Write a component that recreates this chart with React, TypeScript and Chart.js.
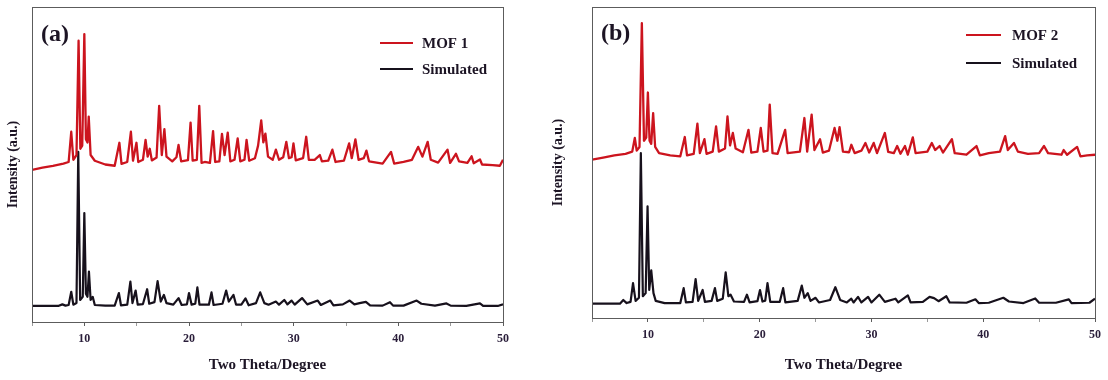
import React, { useEffect, useRef } from "react";
import { Chart, registerables } from "chart.js";

Chart.register(...registerables);

// ---------- Data (2θ in degrees, intensity in offset arbitrary units) ----------
const xTickValues = [10, 20, 30, 40, 50];

// Panel (a): MOF 1 experimental (offset upward)
const mof1Theta = [5.0, 6.0, 7.0, 8.0, 8.5, 8.75, 8.95, 9.25, 9.45, 9.62, 9.8, 10.0, 10.15, 10.3, 10.42, 10.6, 11.0, 12.0, 12.9, 13.35, 13.55, 14.1, 14.45, 14.65, 14.98, 15.15, 15.6, 15.85, 16.05, 16.25, 16.45, 16.9, 17.15, 17.4, 17.65, 17.85, 18.4, 18.8, 19.0, 19.25, 19.9, 20.15, 20.35, 20.75, 20.98, 21.2, 21.5, 22.0, 22.3, 22.5, 22.9, 23.15, 23.4, 23.7, 23.95, 24.35, 24.65, 24.9, 25.3, 25.5, 25.75, 26.3, 26.6, 26.9, 27.1, 27.3, 27.55, 28.0, 28.3, 28.6, 29.0, 29.3, 29.55, 29.8, 29.98, 30.2, 30.9, 31.2, 31.45, 32.0, 32.5, 32.7, 33.3, 33.7, 34.0, 34.8, 35.3, 35.55, 35.9, 36.2, 36.7, 36.95, 37.2, 38.5, 39.3, 39.6, 40.5, 41.3, 41.9, 42.3, 42.8, 43.1, 43.8, 44.7, 44.95, 45.5, 45.8, 46.6, 47.0, 47.2, 47.8, 48.0, 49.0, 49.7, 50.0];
const mof1Intensity = [48.3, 49.0, 49.6, 50.3, 50.8, 60.4, 51.5, 53.0, 89.3, 55.0, 56.0, 91.4, 58.0, 57.0, 65.2, 53.0, 51.2, 50.0, 49.6, 56.9, 50.2, 50.8, 60.4, 51.2, 56.9, 50.8, 51.5, 57.8, 52.5, 55.0, 51.3, 52.2, 68.6, 53.0, 61.2, 52.5, 51.0, 52.3, 56.2, 51.0, 51.4, 63.3, 51.2, 51.5, 68.6, 50.5, 50.8, 50.5, 60.6, 50.8, 51.0, 59.7, 53.0, 60.1, 51.0, 51.5, 58.3, 51.0, 51.5, 57.8, 51.2, 52.0, 56.0, 64.0, 57.0, 59.8, 52.5, 51.5, 54.7, 51.5, 52.3, 57.2, 52.0, 52.3, 56.7, 51.3, 52.0, 58.8, 51.5, 51.5, 53.0, 51.0, 51.2, 54.7, 50.8, 51.2, 56.7, 52.0, 58.0, 51.5, 52.0, 54.4, 51.0, 50.3, 54.0, 50.3, 50.8, 51.5, 55.6, 52.5, 57.2, 51.5, 50.6, 54.7, 50.5, 53.4, 51.0, 50.5, 52.6, 50.4, 51.6, 50.0, 49.8, 49.6, 51.5];

// Panel (a): simulated pattern
const sim1Theta = [5.0, 7.5, 7.9, 8.2, 8.5, 8.75, 8.95, 9.25, 9.42, 9.6, 9.85, 10.0, 10.15, 10.3, 10.44, 10.6, 10.8, 11.0, 12.0, 12.9, 13.3, 13.5, 14.1, 14.4, 14.6, 14.9, 15.1, 15.6, 16.0, 16.2, 16.7, 17.0, 17.3, 17.6, 17.85, 18.5, 19.0, 19.3, 19.8, 20.0, 20.25, 20.6, 20.8, 21.0, 21.9, 22.15, 22.35, 23.2, 23.55, 23.8, 24.25, 24.5, 25.0, 25.4, 25.7, 26.4, 26.8, 27.2, 27.6, 28.3, 28.6, 29.1, 29.4, 29.8, 30.1, 30.8, 31.3, 32.3, 32.6, 33.5, 33.8, 34.7, 35.35, 35.8, 36.3, 36.9, 37.3, 38.5, 39.2, 39.5, 40.5, 41.75, 42.2, 43.5, 44.6, 45.0, 46.5, 47.8, 48.1, 49.5, 50.0];
const sim1Intensity = [5.1, 5.1, 5.6, 5.2, 5.4, 9.6, 5.5, 6.0, 54.0, 7.0, 8.0, 34.6, 9.0, 8.0, 16.0, 7.0, 8.0, 5.4, 5.2, 5.2, 9.2, 5.3, 5.5, 12.8, 6.0, 10.0, 5.5, 5.7, 10.4, 5.8, 6.3, 13.0, 6.5, 8.6, 6.0, 5.5, 7.6, 5.4, 5.6, 9.2, 5.5, 5.8, 11.0, 5.5, 5.5, 9.4, 5.4, 5.8, 10.0, 6.5, 8.6, 5.5, 5.5, 7.5, 5.3, 6.0, 9.4, 6.0, 5.5, 6.5, 5.5, 7.0, 5.6, 6.8, 5.5, 7.6, 5.6, 6.8, 5.4, 6.8, 5.3, 5.6, 6.8, 5.6, 6.0, 6.4, 5.3, 5.2, 6.3, 5.2, 5.2, 6.8, 5.8, 5.2, 5.9, 5.2, 5.1, 5.9, 5.1, 5.1, 5.6];

// Panel (b): MOF 2 experimental (offset upward)
const mof2Theta = [5.0, 6.0, 7.0, 8.0, 8.6, 8.83, 9.0, 9.25, 9.46, 9.65, 9.85, 10.0, 10.15, 10.3, 10.47, 10.65, 11.0, 12.0, 12.9, 13.3, 13.5, 14.1, 14.43, 14.65, 15.06, 15.25, 15.8, 16.1, 16.35, 16.9, 17.12, 17.35, 17.6, 17.85, 18.5, 19.0, 19.25, 19.8, 20.1, 20.35, 20.7, 20.9, 21.15, 21.6, 22.28, 22.5, 23.6, 24.0, 24.25, 24.65, 24.9, 25.4, 25.65, 26.2, 26.7, 26.95, 27.15, 27.45, 28.0, 28.2, 28.5, 29.1, 29.46, 29.8, 30.2, 30.5, 31.2, 31.5, 32.0, 32.3, 32.6, 33.0, 33.25, 33.7, 33.95, 35.0, 35.4, 35.7, 36.1, 36.4, 37.2, 37.45, 38.5, 39.4, 39.7, 40.5, 41.5, 41.96, 42.2, 42.75, 43.1, 44.0, 45.0, 45.44, 45.8, 47.0, 47.2, 47.5, 48.4, 48.7, 49.3, 50.0];
const mof2Intensity = [50.9, 51.6, 52.3, 52.8, 53.5, 57.9, 53.8, 55.0, 94.8, 57.0, 58.0, 72.5, 57.0, 56.0, 65.9, 55.0, 53.0, 52.3, 52.0, 58.2, 52.3, 52.8, 62.5, 53.0, 57.5, 52.8, 53.5, 61.6, 53.5, 54.5, 64.8, 55.5, 59.5, 54.5, 53.3, 60.5, 53.2, 53.5, 61.1, 53.5, 53.8, 68.6, 53.0, 52.8, 60.5, 53.0, 53.5, 64.3, 53.5, 65.4, 54.0, 57.5, 53.2, 53.8, 61.1, 57.0, 61.4, 53.5, 53.3, 55.7, 53.0, 53.8, 56.3, 53.2, 56.3, 53.0, 59.5, 53.4, 53.0, 55.3, 52.8, 55.3, 52.5, 58.1, 53.0, 53.5, 56.3, 54.0, 55.3, 53.2, 57.5, 53.0, 52.5, 55.3, 52.3, 53.0, 53.5, 58.5, 54.0, 56.3, 53.5, 52.8, 53.0, 55.3, 53.0, 52.5, 54.0, 52.5, 55.0, 52.0, 52.3, 52.5];

// Panel (b): simulated pattern
const sim2Theta = [5.0, 7.5, 7.8, 8.1, 8.45, 8.67, 8.9, 9.2, 9.37, 9.55, 9.8, 9.97, 10.12, 10.3, 10.5, 10.7, 11.5, 12.9, 13.2, 13.4, 14.0, 14.27, 14.5, 14.9, 15.1, 15.7, 16.0, 16.2, 16.7, 16.96, 17.2, 17.4, 17.7, 18.6, 18.86, 19.1, 19.8, 20.03, 20.25, 20.5, 20.7, 20.95, 21.8, 22.1, 22.3, 23.4, 23.77, 24.0, 24.3, 24.55, 25.0, 25.3, 26.3, 26.77, 27.2, 27.8, 28.2, 28.4, 28.8, 29.1, 29.7, 30.0, 30.7, 31.2, 32.15, 32.4, 33.26, 33.5, 34.6, 35.2, 35.6, 36.0, 36.7, 37.0, 38.5, 39.3, 39.6, 40.5, 41.8, 42.3, 43.6, 44.65, 45.0, 46.5, 47.66, 47.9, 49.5, 50.0];
const sim2Intensity = [4.6, 4.6, 5.8, 4.8, 5.2, 11.2, 5.5, 6.5, 53.0, 7.0, 8.0, 35.9, 9.0, 15.3, 8.0, 5.5, 4.8, 4.8, 9.6, 5.0, 5.2, 12.5, 5.5, 9.0, 5.2, 5.5, 9.6, 5.5, 6.2, 14.7, 7.0, 7.5, 5.3, 5.2, 7.5, 5.0, 5.4, 9.0, 5.3, 5.6, 11.2, 5.2, 5.2, 9.6, 5.0, 5.5, 10.4, 6.5, 8.0, 5.5, 6.5, 5.0, 5.8, 9.9, 5.8, 5.0, 6.2, 5.0, 6.8, 5.0, 6.8, 5.0, 7.5, 5.2, 6.2, 5.0, 7.3, 5.0, 5.2, 6.8, 6.4, 5.4, 7.0, 5.0, 4.9, 6.0, 4.8, 4.9, 6.5, 5.3, 4.8, 6.3, 4.9, 4.9, 6.0, 4.8, 4.9, 6.2];

// ---------- Styling ----------
const RED = "#cc141e";
const BLACK = "#17111c";
const TEXT = "#1c1424";
const TICK_TEXT = "#2a1e3a";
const AXIS = "#5c5c5c";
const SERIF = '"Liberation Serif", "Times New Roman", serif';

const toPoints = (xs: number[], ys: number[]) => xs.map((x, i) => ({ x, y: ys[i] }));

const overlayPlugin = {
  id: "overlay",
  afterDraw(chart: any, _args: any, opts: any) {
    const ctx = chart.ctx as CanvasRenderingContext2D;
    const a = chart.chartArea;
    ctx.save();
    // frame
    ctx.strokeStyle = AXIS;
    ctx.lineWidth = 1;
    ctx.strokeRect(Math.round(a.left) + 0.5, Math.round(a.top) + 0.5, Math.round(a.right - a.left), Math.round(a.bottom - a.top));
    // panel label
    ctx.fillStyle = TEXT;
    ctx.textBaseline = "middle";
    ctx.textAlign = "left";
    ctx.font = `bold 24px ${SERIF}`;
    ctx.fillText(opts.label, opts.labelX, opts.labelY);
    // legend
    ctx.font = `bold 15px ${SERIF}`;
    chart.data.datasets.forEach((ds: any, i: number) => {
      const y = opts.legendY[i];
      ctx.strokeStyle = ds.borderColor;
      ctx.lineWidth = 2;
      ctx.beginPath();
      ctx.moveTo(opts.lineX0, y);
      ctx.lineTo(opts.lineX1, y);
      ctx.stroke();
      ctx.fillStyle = TEXT;
      ctx.fillText(ds.label, opts.textX, y + 1);
    });
    ctx.restore();
  },
};

type PanelProps = {
  left: number;
  width: number;
  yAxisWidth: number;
  padRight: number;
  xAxisHeight: number;
  expLabel: string;
  expTheta: number[];
  expIntensity: number[];
  simTheta: number[];
  simIntensity: number[];
  label: string;
  labelX: number;
  labelY: number;
  legendY: number[];
  lineX0: number;
  lineX1: number;
  textX: number;
};

function Panel(p: PanelProps) {
  const ref = useRef<HTMLCanvasElement | null>(null);
  useEffect(() => {
    if (!ref.current) return;
    const chart = new Chart(ref.current, {
      type: "line",
      data: {
        datasets: [
          {
            label: p.expLabel,
            data: toPoints(p.expTheta, p.expIntensity),
            borderColor: RED,
            borderWidth: 2.3,
            borderJoinStyle: "round",
            pointRadius: 0,
            tension: 0,
          },
          {
            label: "Simulated",
            data: toPoints(p.simTheta, p.simIntensity),
            borderColor: BLACK,
            borderWidth: 2.2,
            borderJoinStyle: "round",
            pointRadius: 0,
            tension: 0,
          },
        ],
      },
      options: {
        responsive: false,
        animation: false,
        devicePixelRatio: 1,
        layout: { padding: { top: 7, right: p.padRight, left: 0, bottom: 0 } },
        plugins: {
          legend: { display: false },
          tooltip: { enabled: false },
          overlay: {
            label: p.label,
            labelX: p.labelX,
            labelY: p.labelY,
            legendY: p.legendY,
            lineX0: p.lineX0,
            lineX1: p.lineX1,
            textX: p.textX,
          },
        } as any,
        scales: {
          x: {
            type: "linear",
            min: 5,
            max: 50,
            ticks: {
              stepSize: 5,
              autoSkip: false,
              maxRotation: 0,
              padding: 6,
              color: TICK_TEXT,
              font: { family: SERIF, size: 12, weight: "bold" },
              callback: (v: any) => (xTickValues.includes(Number(v)) ? String(v) : ""),
            },
            grid: {
              drawOnChartArea: false,
              drawTicks: true,
              tickLength: 4,
              tickColor: (c: any) => (c.tick && xTickValues.includes(c.tick.value) ? AXIS : "#9a9a9a"),
            },
            border: { display: true, color: AXIS, width: 1 },
            title: {
              display: true,
              text: "Two Theta/Degree",
              color: TEXT,
              font: { family: SERIF, size: 15, weight: "bold" },
              padding: { top: 0, bottom: 6 },
            },
            afterFit: (s: any) => {
              s.height = p.xAxisHeight;
            },
          },
          y: {
            min: 0,
            max: 100,
            ticks: { display: false },
            grid: { display: false, drawTicks: false },
            border: { display: true, color: AXIS, width: 1 },
            title: {
              display: true,
              text: "Intensity (a.u.)",
              color: TEXT,
              font: { family: SERIF, size: 14, weight: "bold" },
              padding: { top: 5, bottom: 0 },
            },
            afterFit: (s: any) => {
              s.width = p.yAxisWidth;
            },
          },
        },
      },
      plugins: [overlayPlugin],
    });
    return () => chart.destroy();
  }, []);
  return (
    <canvas
      ref={ref}
      width={p.width}
      height={380}
      style={{ position: "absolute", left: p.left, top: 0, width: p.width, height: 380 }}
    />
  );
}

export default function App() {
  return (
    <div style={{ position: "absolute", left: 0, top: 0, width: 1108, height: 380, background: "#ffffff", overflow: "hidden" }}>
      <Panel
        left={0}
        width={554}
        yAxisWidth={32}
        padRight={51}
        xAxisHeight={58}
        expLabel="MOF 1"
        expTheta={mof1Theta}
        expIntensity={mof1Intensity}
        simTheta={sim1Theta}
        simIntensity={sim1Intensity}
        label="(a)"
        labelX={41}
        labelY={35}
        legendY={[43, 69]}
        lineX0={380}
        lineX1={413}
        textX={422}
      />
      <Panel
        left={545}
        width={563}
        yAxisWidth={47}
        padRight={13}
        xAxisHeight={62}
        expLabel="MOF 2"
        expTheta={mof2Theta}
        expIntensity={mof2Intensity}
        simTheta={sim2Theta}
        simIntensity={sim2Intensity}
        label="(b)"
        labelX={56}
        labelY={34}
        legendY={[35, 63]}
        lineX0={421}
        lineX1={456}
        textX={467}
      />
    </div>
  );
}
